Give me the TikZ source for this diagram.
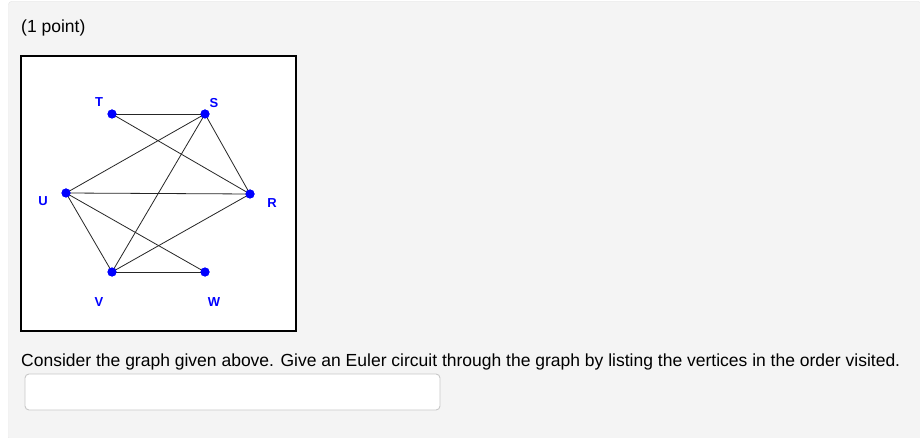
\documentclass[tikz,border=0pt]{standalone}
\usepackage{fontspec}
\setmainfont{Liberation Sans}
\definecolor{panel}{HTML}{F4F4F4}
\definecolor{panelline}{HTML}{E3E3E3}
\definecolor{inputline}{HTML}{C8C8C8}
\definecolor{vblue}{HTML}{0000FF}
\tikzset{
  vertex/.style={circle,fill=vblue,inner sep=0pt,minimum size=9pt},
  vlabel/.style={text=vblue,font=\fontsize{13}{14}\selectfont\bfseries,inner sep=0pt},
  edge/.style={draw=black!85,line width=0.8pt},
}
\begin{document}
\begin{tikzpicture}[x=1pt,y=-1pt]
\useasboundingbox (0,0) rectangle (920,438);
\fill[white] (0,0) rectangle (920,438);
\draw[panelline,fill=panel,rounded corners=3pt] (8.5,1.5) -- (921,1.5) -- (921,440) -- (8.5,440) -- cycle;
\node[anchor=base west,inner sep=0pt,font=\fontsize{17.5}{20}\selectfont] (pt) at (21,33) {(1 point)};
\node[draw=black,line width=1.2pt,fill=white,minimum width=275pt,minimum height=275pt,inner sep=0pt] (box) at (158.5,193.5) {};
% vertices
\node[vertex] (T) at (112,114) {};
\node[vertex] (S) at (205,114) {};
\node[vertex] (U) at (66,193) {};
\node[vertex] (R) at (250,194) {};
\node[vertex] (V) at (112,272) {};
\node[vertex] (W) at (205,272) {};
\node[vlabel] (lT) at (99,102) {T};
\node[vlabel] (lS) at (214,103) {S};
\node[vlabel] (lU) at (43,201) {U};
\node[vlabel] (lR) at (272,203) {R};
\node[vlabel] (lV) at (99,302) {V};
\node[vlabel] (lW) at (214,302) {W};
\draw[edge] (T.center) -- (S.center);
\draw[edge] (T.center) -- (R.center);
\draw[edge] (S.center) -- (U.center);
\draw[edge] (S.center) -- (V.center);
\draw[edge] (S.center) -- (R.center);
\draw[edge] (U.center) -- (R.center);
\draw[edge] (U.center) -- (V.center);
\draw[edge] (U.center) -- (W.center);
\draw[edge] (V.center) -- (R.center);
\draw[edge] (V.center) -- (W.center);
\foreach \v in {T,S,U,R,V,W} \fill[vblue] (\v) circle (4.5pt);
\node[anchor=base west,inner sep=0pt,font=\fontsize{17.5}{20}\selectfont] (q) at (21,366) {Consider the graph given above. Give an Euler circuit through the graph by listing the vertices in the order visited.};
\node[draw=inputline,line width=0.9pt,fill=white,rounded corners=4pt,minimum width=415pt,minimum height=36pt,inner sep=0pt] (inp) at (232.5,392) {};
\end{tikzpicture}
\end{document}
